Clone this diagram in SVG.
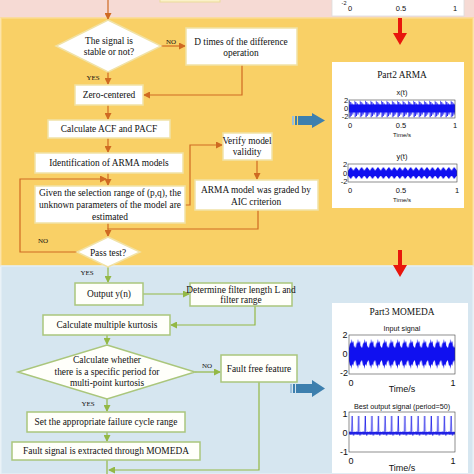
<svg xmlns="http://www.w3.org/2000/svg" width="474" height="474" viewBox="0 0 474 474">
<style>
.t{font-family:"Liberation Serif","Times New Roman",serif;font-size:9.4px;fill:#111;text-anchor:middle}
.s{font-family:"Liberation Serif","Times New Roman",serif;font-size:7px;fill:#111;text-anchor:middle}
.a{font-family:"Liberation Sans",Arial,sans-serif;font-size:7.5px;fill:#111;text-anchor:middle}
.a9{font-family:"Liberation Sans",Arial,sans-serif;font-size:9px;fill:#111;text-anchor:middle}
.by{fill:#fff;stroke:#f1e2a6;stroke-width:1.5}
.bb{fill:#fffffa;stroke:#aac67c;stroke-width:1.5}
.co{fill:none;stroke:#cf6a22;stroke-width:1.2}
.cg{fill:none;stroke:#93b845;stroke-width:1.2}
.ax{fill:none;stroke:#444;stroke-width:0.6}
.ba{fill:#3d7fae}
</style>
<defs>
<marker id="mo" markerWidth="7" markerHeight="7" refX="6" refY="3.5" orient="auto" markerUnits="userSpaceOnUse"><path d="M0,0 L7,3.5 L0,7 Z" fill="#cf6a22"/></marker>
<marker id="mg" markerWidth="7" markerHeight="7" refX="6" refY="3.5" orient="auto" markerUnits="userSpaceOnUse"><path d="M0,0 L7,3.5 L0,7 Z" fill="#93b845"/></marker>
<pattern id="px" patternUnits="userSpaceOnUse" x="349" y="100" width="5.35" height="18">
<rect x="0" y="4.5" width="5.35" height="8" fill="#1010f0"/>
<path d="M0.5 0.8 L1 17.2 L1.6 2 L2.2 16 L2.9 3.5 L3.6 14.5 L4.4 4.5" stroke="#1010f0" stroke-width="0.7" fill="none"/>
</pattern>
<pattern id="py" patternUnits="userSpaceOnUse" x="348" y="164" width="5.45" height="18">
<polygon points="0,6.5 2.7,3 5.45,6.5 5.45,11.5 2.7,15 0,11.5" fill="#1010f0"/>
</pattern>
<pattern id="pi" patternUnits="userSpaceOnUse" x="349" y="335" width="6.6" height="39">
<polygon points="0,13 1.2,7 1.8,9 2.6,4 3.4,8 4.2,6 5,11 6.6,13 6.6,25 5,27 4,31 3,29 2.4,34 1.6,30 1,31 0,26" fill="#1010f0"/>
</pattern>
<pattern id="pb" patternUnits="userSpaceOnUse" x="349" y="412" width="6.6" height="40">
<rect x="0" y="20" width="6.6" height="2.5" fill="#2a2ae0"/>
<path d="M0 21 L1 19.5 L1.8 22.5 L2.6 20 L3.1 4 L3.6 21 L4.5 23.5 L5.4 19.8 L6.6 21" stroke="#1a1ae8" stroke-width="0.8" fill="none"/>
</pattern>
</defs>

<g id="backgrounds">
<rect x="0" y="0" width="474" height="18" fill="#f6dad4"/>
<rect x="1" y="18" width="472" height="248" fill="#f9d066" stroke="#fbdc8e" stroke-width="1.5"/>
<rect x="1" y="266" width="472" height="208" fill="#d6e6f0" stroke="#e4eef5" stroke-width="1.5"/>
</g>

<g id="top-box"><rect x="160" y="-6" width="60" height="8" fill="#fbf1c8" stroke="#eadb9a" stroke-width="1"/></g>

<g id="part1-chart">
<rect x="332" y="-4" width="132" height="20" fill="#fff" stroke="#ddd" stroke-width="0.8"/>
<text class="a" x="344" y="5" text-anchor="end" style="font-size:5.5px">-2</text>
<text class="a" x="350" y="11">0</text>
<text class="a" x="401" y="11">0.5</text>
<text class="a" x="455" y="11">1</text>
</g>

<g id="part2-chart">
<rect x="332" y="62" width="132" height="146" fill="#fff"/>
<text class="t" x="402" y="78">Part2 ARMA</text>
<text class="a" x="402" y="95">x(t)</text>
<rect x="349" y="100" width="106" height="18" fill="url(#px)"/>
<rect class="ax" x="349" y="100" width="106" height="18" stroke="#3030c0"/>
<text class="a" x="346" y="103" text-anchor="end">2</text>
<text class="a" x="346" y="111" text-anchor="end">0</text>
<text class="a" x="345" y="119" text-anchor="end">-2</text>
<text class="a" x="350" y="128">0</text>
<text class="a" x="401" y="128">0.5</text>
<text class="a" x="455" y="128">1</text>
<text class="a" x="402" y="137" style="font-size:6px">Time/s</text>
<text class="a" x="402" y="159">y(t)</text>
<rect x="348" y="164" width="109" height="18" fill="url(#py)"/>
<rect class="ax" x="348" y="164" width="109" height="18" stroke="#3030c0"/>
<text class="a" x="345" y="167" text-anchor="end">2</text>
<text class="a" x="345" y="176" text-anchor="end">0</text>
<text class="a" x="344" y="184" text-anchor="end">-2</text>
<text class="a" x="350" y="193">0</text>
<text class="a" x="401" y="193">0.5</text>
<text class="a" x="457" y="193">1</text>
<text class="a" x="402" y="202" style="font-size:6px">Time/s</text>
</g>

<g id="part3-chart">
<rect x="332" y="303" width="136" height="170" fill="#fff"/>
<text class="t" x="402" y="315">Part3 MOMEDA</text>
<text class="a" x="402" y="331" style="font-size:7.2px">Input signal</text>
<rect x="349" y="335" width="106" height="39" fill="url(#pi)"/>
<rect class="ax" x="349" y="335" width="106" height="39"/>
<text class="a9" x="345" y="338" text-anchor="end">2</text>
<text class="a9" x="345" y="357" text-anchor="end">0</text>
<text class="a9" x="344" y="376" text-anchor="end">-2</text>
<text class="a9" x="351" y="386">0</text>
<text class="a9" x="453" y="386">1</text>
<text class="a9" x="402" y="392">Time/s</text>
<text class="a" x="402" y="409" style="font-size:7.2px">Best output signal (period=50)</text>
<rect x="349" y="412" width="106" height="40" fill="url(#pb)"/>
<rect class="ax" x="349" y="412" width="106" height="40"/>
<text class="a9" x="345" y="417" text-anchor="end">1</text>
<text class="a9" x="345" y="436" text-anchor="end">0</text>
<text class="a9" x="344" y="455" text-anchor="end">-1</text>
<text class="a9" x="351" y="464">0</text>
<text class="a9" x="453" y="464">1</text>
<text class="a9" x="402" y="471">Time/s</text>
</g>

<g id="red-arrows" fill="#e8160c">
<path d="M398,18 H402 V33 H407 L400,45 L393,33 H398 Z"/>
<path d="M398,250 H402 V265 H407 L400,277 L393,265 H398 Z"/>
</g>

<g id="blue-arrows">
<rect x="292" y="116" width="2" height="9" fill="#9cc0dc"/>
<rect x="295" y="116" width="2" height="9" class="ba"/>
<path class="ba" d="M298,116 H312 V113 L325,120.5 L312,128 V125 H298 Z"/>
<rect x="290" y="384" width="2" height="9" fill="#9cc0dc"/>
<rect x="293" y="384" width="2" height="9" class="ba"/>
<path class="ba" d="M296,384 H312 V380 L325,388.5 L312,397 V393 H296 Z"/>
</g>

<g id="connectors">
<path class="co" d="M108,0 V19" marker-end="url(#mo)"/>
<path class="co" d="M161,46 H185" marker-end="url(#mo)"/>
<path class="co" d="M242,65 V95 H144" marker-end="url(#mo)"/>
<path class="co" d="M108,72 V84" marker-end="url(#mo)"/>
<path class="co" d="M108,105 V119" marker-end="url(#mo)"/>
<path class="co" d="M108,138 V152" marker-end="url(#mo)"/>
<path class="co" d="M108,173 V185" marker-end="url(#mo)"/>
<path class="co" d="M77,252 H20 V179 H106" marker-end="url(#mo)"/>
<path class="co" d="M185,205 H190 V145 H222" marker-end="url(#mo)"/>
<path class="co" d="M257,160 V179" marker-end="url(#mo)"/>
<path class="co" d="M258,210 V229 H108 V236" marker-end="url(#mo)"/>
<path class="co" d="M108,223 V229"/>
<path class="cg" d="M108,267 V282" marker-end="url(#mg)"/>
<path class="cg" d="M143,294 H189" marker-end="url(#mg)"/>
<path class="cg" d="M255,306 V325 H171" marker-end="url(#mg)"/>
<path class="cg" d="M107,335 V344" marker-end="url(#mg)"/>
<path class="cg" d="M195,372 H220" marker-end="url(#mg)"/>
<path class="cg" d="M107,399 V411" marker-end="url(#mg)"/>
<path class="cg" d="M107,432 V441" marker-end="url(#mg)"/>
<path class="cg" d="M259,382 V470 H109" marker-end="url(#mg)"/>
<path class="cg" d="M107,460 V474"/>
</g>

<g id="labels">
<text class="s" x="171" y="44">NO</text>
<text class="s" x="93" y="80">YES</text>
<text class="s" x="43" y="243">NO</text>
<text class="s" x="87" y="275">YES</text>
<text class="s" x="207" y="368">NO</text>
<text class="s" x="88" y="406">YES</text>
</g>

<g id="n-stable"><polygon class="by" points="108,20 161,46 108,72 56,46"/><text class="t" x="109" y="44">The signal is</text><text class="t" x="109" y="55">stable or not?</text></g>
<g id="n-dtimes"><rect class="by" x="186" y="28" width="111" height="37"/><text class="t" x="241" y="45">D times of  the difference</text><text class="t" x="241" y="56">operation</text></g>
<g id="n-zero"><rect class="by" x="75" y="85" width="68" height="20"/><text class="t" x="109" y="98">Zero-centered</text></g>
<g id="n-acf"><rect class="by" x="48" y="120" width="122" height="18"/><text class="t" x="109" y="132">Calculate ACF and PACF</text></g>
<g id="n-ident"><rect class="by" x="35" y="153" width="148" height="20"/><text class="t" x="109" y="166">Identification of ARMA models</text></g>
<g id="n-given"><rect class="by" x="35" y="186" width="150" height="37"/><text class="t" x="110" y="196">Given the selection range of (p,q), the</text><text class="t" x="110" y="208">unknown parameters of the model are</text><text class="t" x="110" y="220">estimated</text></g>
<g id="n-verify"><rect class="by" x="223" y="133" width="49" height="27"/><text class="t" x="247" y="144">Verify model</text><text class="t" x="247" y="155">validity</text></g>
<g id="n-aic"><rect class="by" x="195" y="180" width="123" height="30"/><text class="t" x="256" y="193">ARMA model was graded by</text><text class="t" x="256" y="205">AIC criterion</text></g>
<g id="n-pass"><polygon class="by" points="108,237 140,252 108,267 77,252"/><text class="t" x="108" y="256">Pass test?</text></g>
<g id="n-output"><rect class="bb" x="75" y="283" width="68" height="22"/><text class="t" x="109" y="297">Output y(n)</text></g>
<g id="n-filter"><rect class="bb" x="190" y="283" width="102" height="23"/><text class="t" x="241" y="293">Determine filter length L  and</text><text class="t" x="241" y="303">filter range</text></g>
<g id="n-kurt"><rect class="bb" x="43" y="315" width="127" height="20"/><text class="t" x="107" y="328">Calculate multiple kurtosis</text></g>
<g id="n-period"><polygon class="bb" points="107,345 195,372 107,399 18,372"/><text class="t" x="107" y="363">Calculate whether</text><text class="t" x="107" y="375">there is a specific period for</text><text class="t" x="107" y="386">multi-point kurtosis</text></g>
<g id="n-faultfree"><rect class="bb" x="221" y="355" width="76" height="27"/><text class="t" x="259" y="372">Fault free feature</text></g>
<g id="n-set"><rect class="bb" x="27" y="412" width="158" height="20"/><text class="t" x="106" y="425">Set the appropriate failure cycle range</text></g>
<g id="n-momeda"><rect class="bb" x="12" y="442" width="188" height="18"/><text class="t" x="106" y="454">Fault signal is extracted through MOMEDA</text></g>
</svg>
